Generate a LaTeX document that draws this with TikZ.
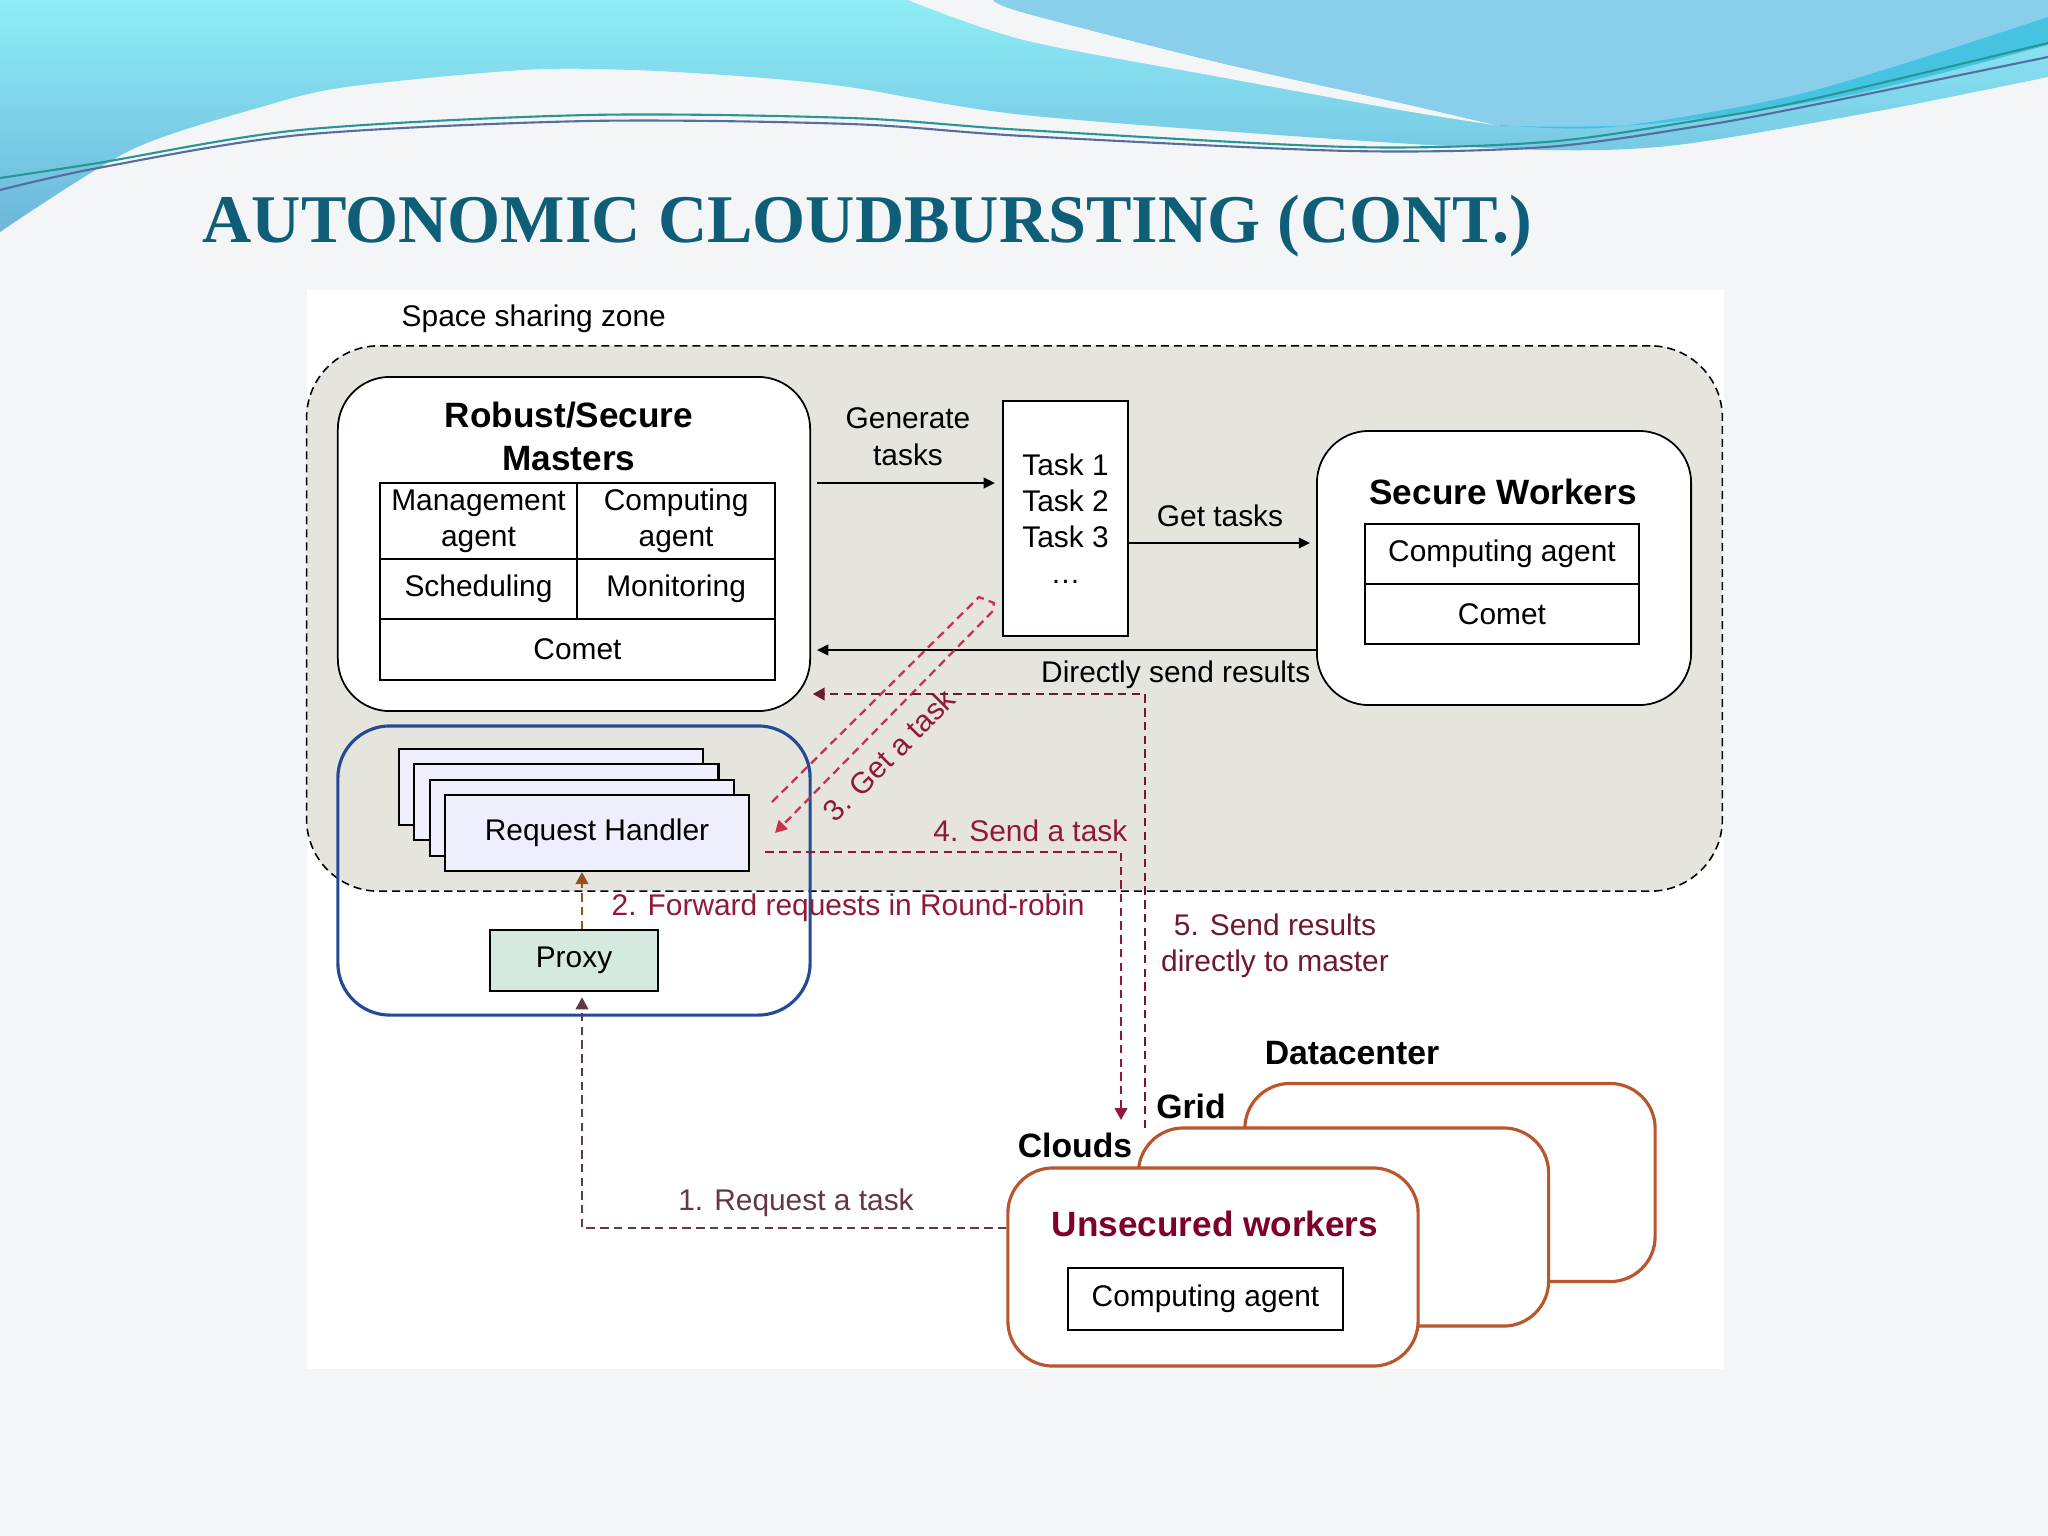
\documentclass[tikz,border=0pt]{standalone}
\usepackage{fontspec}
\setmainfont{Liberation Sans}
\newfontfamily\titlefont{Liberation Serif}
\usetikzlibrary{arrows.meta, positioning, calc}

\definecolor{slidebg}{RGB}{244,245,247}
\definecolor{wavecyan}{RGB}{142,237,246}
\definecolor{wavecyandark}{RGB}{108,182,218}
\definecolor{waveblue}{RGB}{137,206,235}
\definecolor{wavedeep}{RGB}{70,195,225}
\definecolor{lineteal}{RGB}{40,150,150}
\definecolor{lineslate}{RGB}{85,110,160}
\definecolor{titleteal}{RGB}{14,94,120}
\definecolor{zonegray}{RGB}{229,229,222}
\definecolor{rhblue}{RGB}{36,74,150}
\definecolor{rhfill}{RGB}{238,238,252}
\definecolor{proxyfill}{RGB}{212,234,222}
\definecolor{cloudorange}{RGB}{185,86,45}
\definecolor{flowred}{RGB}{145,25,55}
\definecolor{resred}{RGB}{110,25,45}
\definecolor{getred}{RGB}{200,50,80}
\definecolor{fwdbrown}{RGB}{150,80,30}
\definecolor{reqgray}{RGB}{100,55,65}
\definecolor{unsecred}{RGB}{128,0,45}

\begin{document}
\begin{tikzpicture}[x=0.01cm, y=-0.01cm,
    every node/.style={font=\fontsize{8.5}{10.2}\selectfont, inner sep=0pt},
    head/.style={font=\fontsize{10}{12.2}\selectfont\bfseries},
    site/.style={font=\fontsize{9.6}{11}\selectfont\bfseries},
    roundbox/.style={draw, fill=white, line width=0.5pt, rounded corners=14.8pt},
    cell/.style={draw, fill=white, line width=0.5pt, outer sep=0pt, align=center},
    handler/.style={draw, fill=rhfill, line width=0.6pt, minimum width=3.04cm, minimum height=0.76cm},
    sitebox/.style={draw=cloudorange, fill=white, line width=0.9pt, rounded corners=12.8pt,
        minimum width=4.1cm, minimum height=1.98cm},
    flowarrow/.style={-{Triangle[length=3.2pt,width=3pt]}, line width=0.6pt},
    flowdash/.style={dash pattern=on 2.4pt off 1.5pt, line width=0.55pt,
        -{Triangle[length=3.4pt,width=3.6pt]}}
]
\useasboundingbox (0,0) rectangle (2048,1536);

% Slide background and waves
\fill[slidebg] (0,0) rectangle (2048,1536);
\shade[top color=wavecyan, bottom color=wavecyandark] (0,0) -- (2048,0) -- plot[smooth] coordinates
    {(2048,77) (1873,112) (1677,145) (1546,150) (1350,140) (1024,115) (849,87) (751,77)
     (633,70) (522,70) (346,87) (261,107) (131,150) (0,232)} -- cycle;
\fill[waveblue] (993,0) -- plot[smooth] coordinates
    {(993,0) (1024,13) (1220,63) (1400,103) (1494,125) (1612,127) (1808,92) (2048,17)} -- (2048,0) -- cycle;
\fill[wavedeep] plot[smooth] coordinates {(1500,125) (1612,127) (1808,92) (2048,17)}
    -- plot[smooth] coordinates {(2048,45) (1850,95) (1650,124) (1500,126)} -- cycle;
\fill[slidebg] plot[smooth] coordinates {(908,0) (1024,40) (1220,77) (1400,110) (1494,125)}
    -- plot[smooth] coordinates {(1494,125) (1400,103) (1220,63) (1024,13) (993,0)} -- cycle;
\draw[lineteal, line width=0.6pt] plot[smooth] coordinates
    {(0,178) (98,163) (300,130) (588,115) (850,118) (1024,130) (1350,147) (1546,142) (1700,120) (1808,100) (2048,43)};
\draw[lineslate, line width=0.6pt] plot[smooth] coordinates
    {(0,190) (98,168) (300,135) (588,121) (850,124) (1024,136) (1350,151) (1546,147) (1700,126) (1808,106) (2048,57)};

% Title
\node[anchor=base west, font=\titlefont\fontsize{19.4}{23}\selectfont\bfseries, text=titleteal]
    (title) at (202,242) {AUTONOMIC CLOUDBURSTING (CONT.)};

% Diagram area
\fill[white] (307,290) rectangle (1724,1369);

% Space sharing zone
\node[draw, fill=zonegray, dash pattern=on 2.3pt off 1.4pt, line width=0.45pt, rounded corners=20.5pt,
    minimum width=14.15cm, minimum height=5.45cm] (zone) at (1014.5,618.5) {};
\node[anchor=west] (zonelbl) at (401,319) {Space sharing zone};

% Masters
\node[roundbox, minimum width=4.72cm, minimum height=3.34cm] (masters) at (574,544) {};
\node[head, align=center] (mtitle) at (569,436) {Robust/Secure\\Masters};
\node[cell, minimum width=1.97cm, minimum height=0.76cm] (mgmt) at (478.5,521) {Management\\agent};
\node[cell, minimum width=1.98cm, minimum height=0.76cm, right=0pt of mgmt] (mcomp) {Computing\\agent};
\node[cell, minimum width=1.97cm, minimum height=0.60cm, below=0pt of mgmt] (sched) {Scheduling};
\node[cell, minimum width=1.98cm, minimum height=0.60cm, below=0pt of mcomp] (monit) {Monitoring};
\node[cell, minimum width=3.95cm, minimum height=0.61cm] (mcomet) at (577.5,649.5) {Comet};

% Task list
\node[cell, minimum width=1.25cm, minimum height=2.35cm] (tasks) at (1065.5,518.5) {Task 1\\Task 2\\Task 3\\\ldots};
\node[align=center, font=\fontsize{8.5}{10.5}\selectfont] (genlbl) at (908,437) {Generate\\tasks};

% Secure workers
\node[roundbox, minimum width=3.74cm, minimum height=2.74cm] (secure) at (1504,568) {};
\node[head] (stitle) at (1503,492) {Secure Workers};
\node[cell, minimum width=2.74cm, minimum height=0.60cm] (scomp) at (1502,554) {Computing agent};
\node[cell, minimum width=2.74cm, minimum height=0.60cm, below=0pt of scomp] (scomet) {Comet};

% Black arrows
\draw[flowarrow, shorten <=1.7pt, shorten >=2.3pt] (masters.east |- 0,483) -- (tasks.west |- 0,483);
\draw[flowarrow, shorten >=1.7pt] (tasks.east |- 0,543) -- (secure.west |- 0,543);
\node (getlbl) at (1220,516) {Get tasks};
\draw[flowarrow, shorten >=1.7pt] (secure.west |- 0,650) -- (masters.east |- 0,650);
\node[anchor=east] (sendlbl) at (1311,675) {Directly send results};

% Request handlers and proxy
\node[draw=rhblue, line width=0.9pt, rounded corners=14.8pt, minimum width=4.72cm, minimum height=2.89cm]
    (rhzone) at (574,870.5) {};
\foreach \k in {3,2,1} {
    \node[handler] (rh\k) at ({597-15.3*\k},{833-15.3*\k}) {};
}
\node[handler] (rh) at (597,833) {Request Handler};
\node[draw, fill=proxyfill, line width=0.6pt, minimum width=1.68cm, minimum height=0.61cm] (proxy) at (574,960.5) {Proxy};

% Unsecured workers
\node[sitebox] (datacenter) at (1450,1182.5) {};
\node[sitebox] (grid) at (1343.5,1227) {};
\node[sitebox] (clouds) at (1213,1267) {};
\node[site] (dclbl) at (1352,1053) {Datacenter};
\node[site] (gridlbl) at (1191,1106) {Grid};
\node[site] (cloudlbl) at (1075,1145) {Clouds};
\node[head, text=unsecred] (unsec) at (1215,1224) {Unsecured workers};
\node[cell, minimum width=2.75cm, minimum height=0.62cm] (ucomp) at (1205.5,1299) {Computing agent};

% Numbered steps
\coordinate (fwd) at (582,0);
\coordinate (taskin) at (1121,1120);
\coordinate (resout) at (1145,1128);
\draw[flowdash, reqgray, shorten >=1.5pt] (clouds.west |- 0,1228) -| (proxy.south -| fwd);
\node[text=reqgray] (reqlbl) at (796,1203) {1. Request a task};
\draw[flowdash, fwdbrown] (proxy.north -| fwd) -- (rh.south -| fwd);
\node[anchor=west, text=flowred] (fwdlbl) at (611,908) {2. Forward requests in Round-robin};
\draw[flowdash, getred, line width=0.65pt] (772,802) -- (979,597) -- (994,603) -- (992,612) -- (775,833);
\node[rotate=45, text=flowred] (getlbl3) at (889,755) {3. Get a task};
\draw[flowdash, flowred, shorten <=4.3pt] (rh.east |- 0,852) -| (taskin);
\node[anchor=east, text=flowred] (sendtask) at (1128,831) {4. Send a task};
\draw[flowdash, resred, shorten >=0.5pt] (resout) |- (masters.east |- 0,694);
\node[align=center, text=resred] (reslbl) at (1275,946) {5. Send results\\directly to master};
\end{tikzpicture}
\end{document}
